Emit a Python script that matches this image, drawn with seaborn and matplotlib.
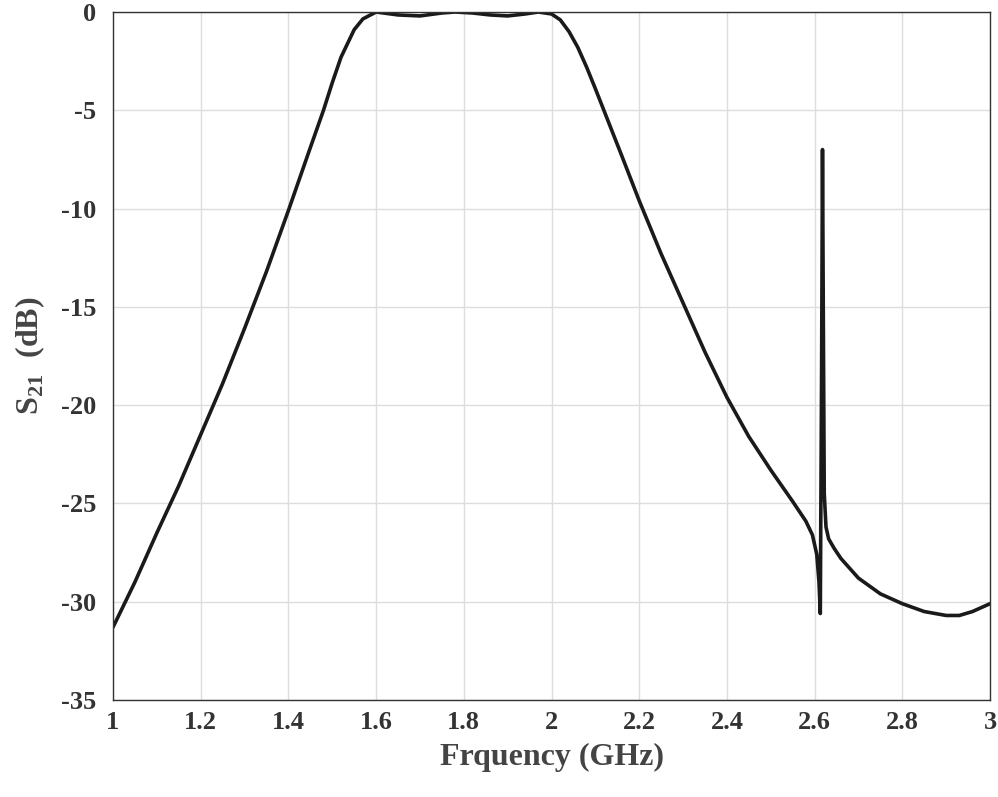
import matplotlib
matplotlib.use("Agg")
import matplotlib.pyplot as plt
import seaborn as sns
import pandas as pd

freq = [1.00, 1.05, 1.10, 1.15, 1.20, 1.25, 1.30, 1.35, 1.40, 1.45, 1.48, 1.50,
        1.52, 1.55, 1.57, 1.60, 1.65, 1.70, 1.75, 1.78, 1.82, 1.86, 1.90, 1.94,
        1.97, 2.00, 2.02, 2.04, 2.06, 2.08, 2.10, 2.13, 2.16, 2.20, 2.25, 2.30,
        2.35, 2.40, 2.45, 2.50, 2.55, 2.58, 2.595, 2.605, 2.610, 2.613, 2.616,
        2.618, 2.620, 2.622, 2.626, 2.632, 2.645, 2.66, 2.70, 2.75, 2.80, 2.85,
        2.90, 2.93, 2.96, 2.98, 3.00]
s21 = [-31.3, -29.0, -26.5, -24.1, -21.5, -18.9, -16.1, -13.2, -10.1, -6.9, -5.0, -3.6,
       -2.3, -0.9, -0.35, 0.0, -0.15, -0.2, -0.05, 0.0, -0.05, -0.15, -0.2, -0.1,
       0.0, -0.1, -0.4, -1.0, -1.8, -2.8, -3.9, -5.6, -7.3, -9.6, -12.3, -14.8,
       -17.3, -19.6, -21.6, -23.3, -24.9, -25.9, -26.6, -27.6, -29.0, -30.6, -18.0,
       -7.0, -16.0, -24.5, -26.2, -26.8, -27.3, -27.8, -28.8, -29.6, -30.1, -30.5,
       -30.7, -30.7, -30.5, -30.3, -30.1]

df = pd.DataFrame({"freq": freq, "s21": s21})

sns.set_style("whitegrid")
plt.rcParams["font.family"] = ["Liberation Serif", "DejaVu Serif"]
plt.rcParams["font.weight"] = "bold"
plt.rcParams["axes.unicode_minus"] = False
plt.rcParams["mathtext.fontset"] = "custom"
plt.rcParams["mathtext.bf"] = "Liberation Serif:bold"
plt.rcParams["mathtext.rm"] = "Liberation Serif:bold"

fig = plt.figure(figsize=(9.98, 7.97), dpi=100)
ax = fig.add_axes([113 / 998, 1 - 700 / 797, (990 - 113) / 998, (700 - 12) / 797])
sns.lineplot(data=df, x="freq", y="s21", color="#1a1a1a", linewidth=2.6, ax=ax)

ax.set_xlim(1, 3)
ax.set_ylim(-35, 0)
ax.set_xticks([1, 1.2, 1.4, 1.6, 1.8, 2, 2.2, 2.4, 2.6, 2.8, 3])
ax.set_xticklabels(["1", "1.2", "1.4", "1.6", "1.8", "2", "2.2", "2.4", "2.6", "2.8", "3"])
ax.set_yticks(range(-35, 1, 5))
ax.tick_params(labelsize=19, colors="#333333", direction="in", length=5)
ax.tick_params(axis="y", pad=12)
ax.tick_params(axis="x", pad=8)
for lab in ax.get_xticklabels() + ax.get_yticklabels():
    lab.set_fontweight("bold")
ax.grid(True, color="#dddddd", linewidth=1)
for sp in ax.spines.values():
    sp.set_color("#333333")
    sp.set_linewidth(1)
ax.set_xlabel("Frquency (GHz)", fontsize=23, fontweight="bold", color="#444444", labelpad=6)
ax.set_ylabel(r"S$_{\mathbf{21}}$  (dB)", fontsize=23, fontweight="bold", color="#444444", labelpad=10)
fig.savefig("out.png", dpi=100, facecolor="white")
